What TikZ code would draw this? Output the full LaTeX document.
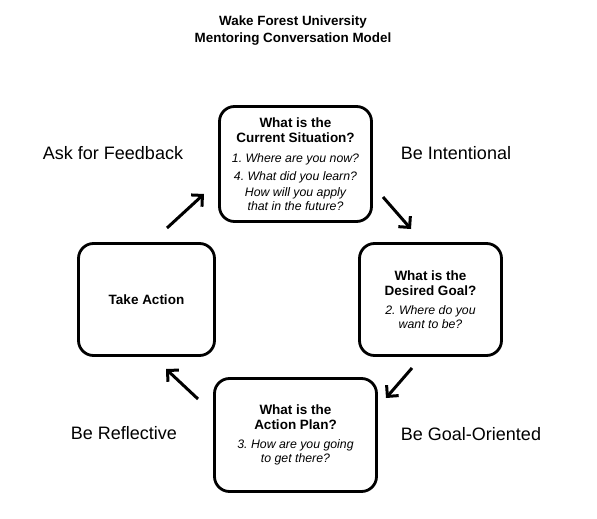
\documentclass[tikz,border=0pt]{standalone}
\usepackage{fontspec}
\setmainfont{Liberation Sans}
\usetikzlibrary{arrows.meta}
\frenchspacing
\newcommand{\stagehead}[1]{{\bfseries\fontsize{13.5}{15}\selectfont #1}}
\newcommand{\stageask}[1]{{\itshape\fontsize{12.3}{15}\selectfont #1}}

\begin{document}
\begin{tikzpicture}[x=1pt,y=-1pt]
\tikzstyle{stage}=[rectangle, rounded corners=15pt, draw=black, line width=2.8pt, align=center, font=\fontsize{12.3}{15}\selectfont]
\tikzstyle{connect}=[-{Straight Barb[length=8pt,width=16pt]}, line width=3pt]
\tikzstyle{quality}=[font=\fontsize{18}{21}\selectfont]
\useasboundingbox (0,0) rectangle (597,519);
  \node[align=center, font=\bfseries\fontsize{13.4}{17}\selectfont] (title) at (293,31) {Wake Forest University\\Mentoring Conversation Model};
  % the four stages
  \node[stage, minimum width=152pt, minimum height=115pt] (current) at (295.5,164)
    {\stagehead{What is the}\\\stagehead{Current Situation?}\\[5pt]
     \stageask{1. Where are you now?}\\[3pt]
     \stageask{4. What did you learn?}\\[1pt]
     \stageask{How will you apply}\\[-1pt]\stageask{that in the future?}};
  \node[stage, minimum width=142pt, minimum height=112pt] (goal) at (430.5,299.5)
    {\stagehead{What is the}\\\stagehead{Desired Goal?}\\[4pt]
     \stageask{2. Where do you}\\[-1pt]\stageask{want to be?}};
  \node[stage, minimum width=162pt, minimum height=113pt] (plan) at (295.5,435)
    {\stagehead{What is the}\\\stagehead{Action Plan?}\\[4pt]
     \stageask{3. How are you going}\\[-1pt]\stageask{to get there?}};
  \node[stage, minimum width=136pt, minimum height=112pt] (action) at (146.5,299.5)
    {\stagehead{Take Action}};
  % the qualities
  \node[quality] (feedback) at (113,153) {Ask for Feedback};
  \node[quality] (intentional) at (456,153) {Be Intentional};
  \node[quality] (reflective) at (124,433) {Be Reflective};
  \node[quality] (oriented) at (471,434) {Be Goal-Oriented};
  % arrows between the stages
  \coordinate (a1) at (167,228); \coordinate (b1) at (204,194);
  \coordinate (a2) at (383,197); \coordinate (b2) at (411,229);
  \coordinate (a3) at (412,368); \coordinate (b3) at (386,398);
  \coordinate (a4) at (198,399); \coordinate (b4) at (166,369);
  \path (a1) edge [connect] (b1)
        (a2) edge [connect] (b2)
        (a3) edge [connect] (b3)
        (a4) edge [connect] (b4);
\end{tikzpicture}
\end{document}
